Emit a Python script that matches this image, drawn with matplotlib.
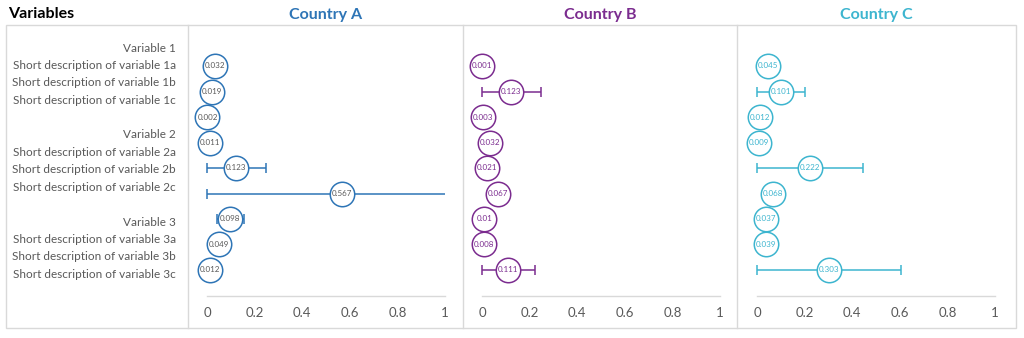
import matplotlib
matplotlib.use("Agg")
import matplotlib.pyplot as plt
from matplotlib.patches import Rectangle
import numpy as np

plt.rcParams['font.family'] = ['Lato', 'DejaVu Sans']

# ---------------- data ----------------
row_labels = ["Variable 1",
              "Short description of variable 1a",
              "Short description of variable 1b",
              "Short description of variable 1c",
              "Variable 2",
              "Short description of variable 2a",
              "Short description of variable 2b",
              "Short description of variable 2c",
              "Variable 3",
              "Short description of variable 3a",
              "Short description of variable 3b",
              "Short description of variable 3c"]
label_slots = [0, 1, 2, 3, 5, 6, 7, 8, 10, 11, 12, 13]

countries = ["Country A", "Country B", "Country C"]
values_a = [0.032, 0.019, 0.002, 0.011, 0.123, 0.567, 0.098, 0.049, 0.012]
errors_a = [0, 0, 0, 0, 0.123, 0.567, 0.057, 0, 0]
values_b = [0.001, 0.123, 0.003, 0.032, 0.021, 0.067, 0.01, 0.008, 0.111]
errors_b = [0, 0.123, 0, 0, 0, 0, 0, 0, 0.111]
values_c = [0.045, 0.101, 0.012, 0.009, 0.222, 0.068, 0.037, 0.039, 0.303]
errors_c = [0, 0.1, 0, 0, 0.222, 0, 0, 0, 0.303]
x_ticks = [0, 0.2, 0.4, 0.6, 0.8, 1]
x_tick_labels = ["0", "0.2", "0.4", "0.6", "0.8", "1"]

colors = ["#2E75B6", "#7B2C8F", "#3DB5CF"]
text_colors = ["#595959", "#7B2C8F", "#3DB5CF"]
all_values = [values_a, values_b, values_c]
all_errors = [errors_a, errors_b, errors_c]

# ---------------- layout (pixels) ----------------
W, H = 1024, 338
fig = plt.figure(figsize=(W / 100, H / 100), dpi=100)

frame_top, frame_bot = 25, 328
def fy(p):  # pixel from top -> figure fraction
    return 1 - p / H

# outer frame & separators
frame_color = "#D9D9D9"
fig.add_artist(Rectangle((6 / W, fy(frame_bot)), (1016 - 6) / W, (frame_bot - frame_top) / H,
                         transform=fig.transFigure, fill=False, edgecolor=frame_color, lw=1.0))
for xs in [188, 463, 737]:
    fig.add_artist(plt.Line2D([xs / W, xs / W], [fy(frame_bot), fy(frame_top)],
                              transform=fig.transFigure, color=frame_color, lw=1.0))

# label panel
axl = fig.add_axes([6 / W, fy(frame_bot), (188 - 6) / W, (frame_bot - frame_top) / H])
axl.set_axis_off()
slot_h = 17.4
axl.set_ylim((frame_bot - 48) / slot_h, (frame_top - 48) / slot_h)
axl.set_xlim(0, 1)
for lab, s in zip(row_labels, label_slots):
    axl.text((176 - 6) / (188 - 6), s, lab, ha="right", va="center",
             fontsize=8.5, color="#595959")
fig.text(8 / W, fy(14), "Variables", ha="left", va="center",
         fontsize=11.5, fontweight="bold", color="black")

# country panels
panels = [(188, 463, 207), (463, 737, 482), (737, 1016, 757)]
unit = 238.0
row0, row_h = 66, 25.5
for k, (x0, x1, zero_px) in enumerate(panels):
    ax = fig.add_axes([x0 / W, fy(frame_bot), (x1 - x0) / W, (frame_bot - frame_top) / H])
    ax.set_axis_off()
    xmin = -(zero_px - x0) / unit
    xmax = (x1 - zero_px) / unit
    ax.set_xlim(xmin, xmax)
    ax.set_ylim((frame_bot - row0) / row_h, (frame_top - row0) / row_h)
    vals = all_values[k]
    errs = all_errors[k]
    rows = np.arange(len(vals))
    col = colors[k]
    clip = Rectangle((xmin, -5), 1 - xmin, 20, transform=ax.transData,
                     fill=False, visible=False)
    ax.add_patch(clip)
    for r, v, e in zip(rows, vals, errs):
        if e > 0:
            eb = ax.errorbar([v], [r], xerr=[e], fmt="none", ecolor=col,
                             elinewidth=1.1, capsize=3.5, capthick=1.1, zorder=2)
            for art in eb.lines[1] + eb.lines[2]:
                art.set_clip_path(clip)
    ax.scatter(vals, rows, s=310, facecolor="white", edgecolor=col,
               linewidth=1.1, zorder=3)
    for r, v in zip(rows, vals):
        ax.text(v, r, f"{v:g}", ha="center", va="center", fontsize=5.8,
                color=text_colors[k], zorder=4)
    # axis line and tick labels
    axis_row = 9
    ax.plot([x_ticks[0], x_ticks[-1]], [axis_row, axis_row], color="#D9D9D9", lw=1.0)
    for t, tl in zip(x_ticks, x_tick_labels):
        ax.text(t, axis_row + 0.67, tl, ha="center", va="center",
                fontsize=9.5, color="#595959")
    fig.text((x0 + x1) / 2 / W, fy(15), countries[k], ha="center", va="center",
             fontsize=11.5, fontweight="bold", color=col)

fig.savefig("out.png", dpi=100)
